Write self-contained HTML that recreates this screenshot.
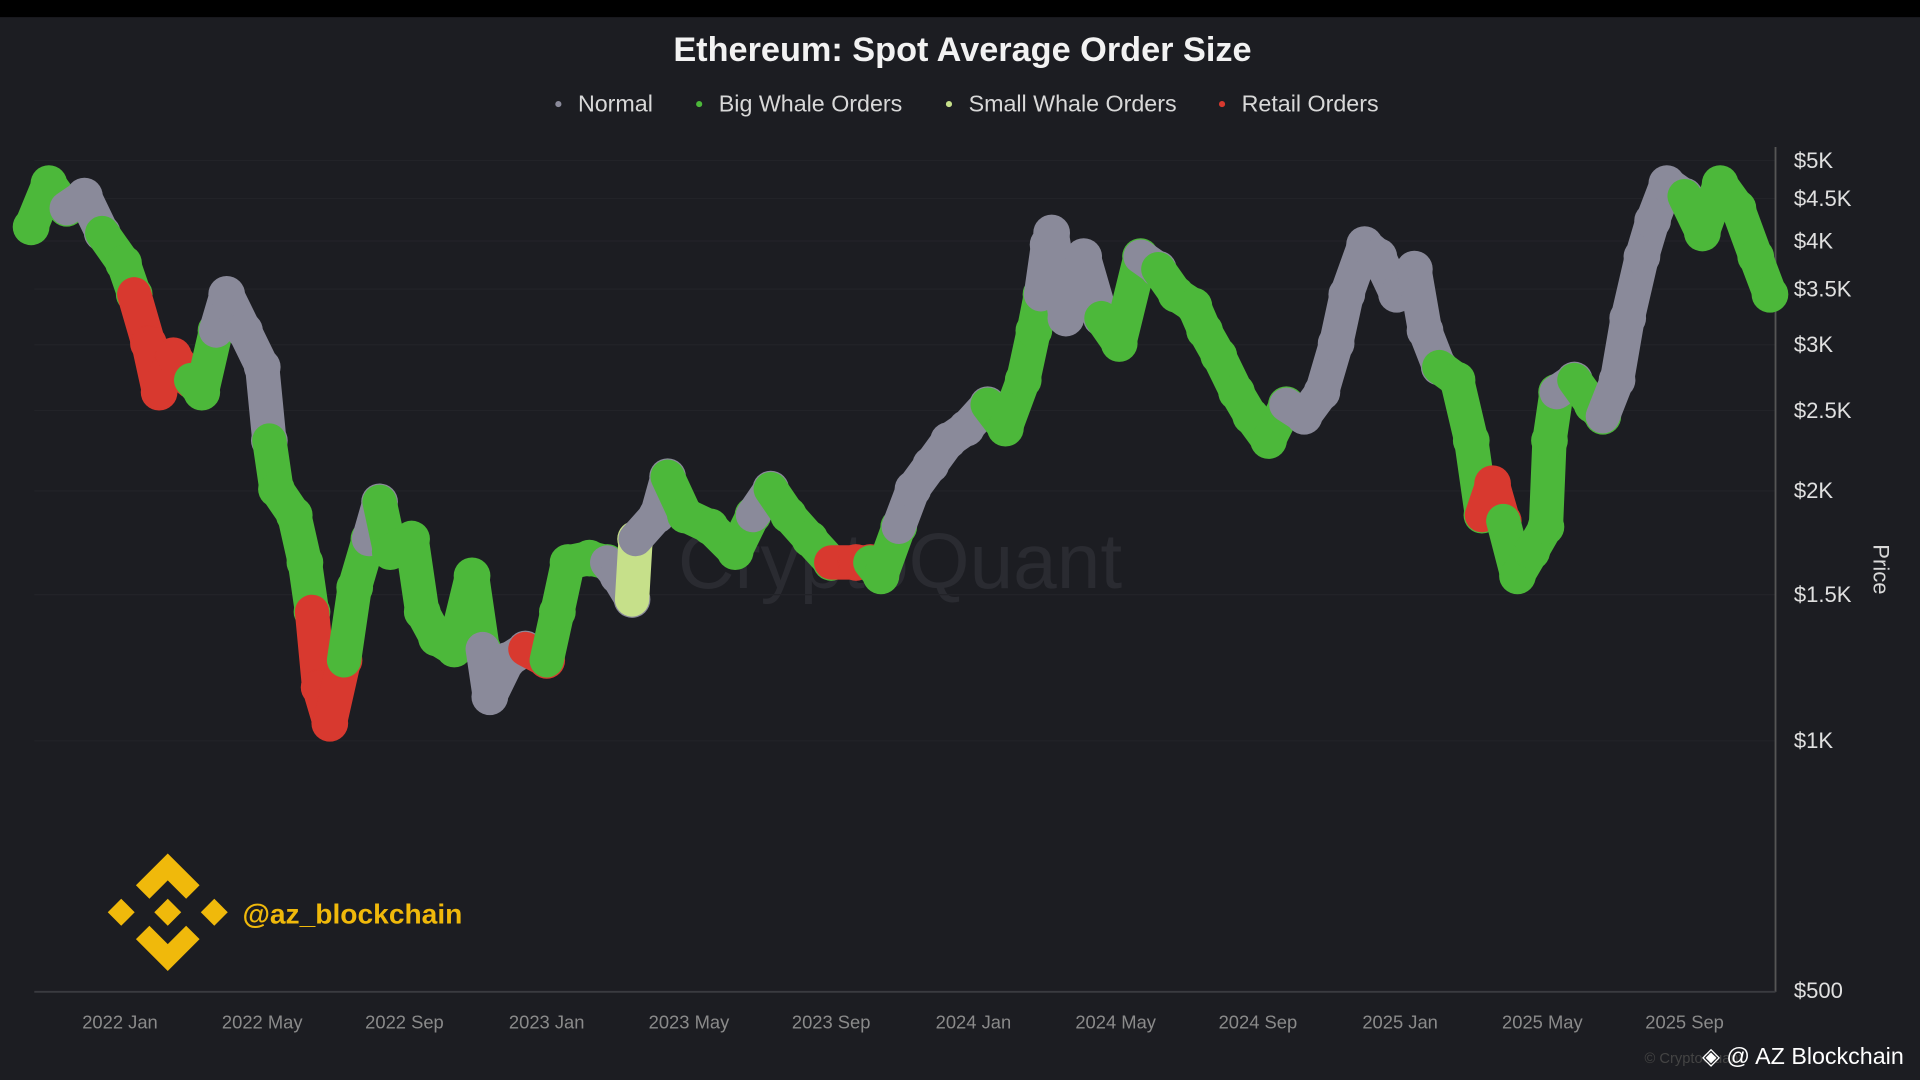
<!DOCTYPE html>
<html><head><meta charset="utf-8"><style>
html,body{margin:0;padding:0;background:#1c1d22;width:1920px;height:1080px;overflow:hidden}
svg{display:block;font-family:"Liberation Sans",sans-serif}
</style></head><body>
<svg id="chart" width="1920" height="1080" viewBox="0 0 1568 882">
<rect x="0" y="0" width="1568" height="882" fill="#1c1d22"/>
<rect x="0" y="0" width="1568" height="14" fill="#000"/>
<text x="786" y="50" text-anchor="middle" fill="#f2f2f2" font-size="28" font-weight="bold">Ethereum: Spot Average Order Size</text>
<g font-size="19" fill="#d8d8d8">
<g><circle cx="456" cy="85" r="2.5" fill="#8a8a9a"/><text x="472" y="91">Normal</text></g>
<g><circle cx="571" cy="85" r="2.5" fill="#4cb83a"/><text x="587" y="91">Big Whale Orders</text></g>
<g><circle cx="775" cy="85" r="2.5" fill="#c6e08a"/><text x="791" y="91">Small Whale Orders</text></g>
<g><circle cx="998" cy="85" r="2.5" fill="#d8392f"/><text x="1014" y="91">Retail Orders</text></g>
</g>
<text x="735" y="480" text-anchor="middle" fill="#2a2b31" font-size="64">CryptoQuant</text>
<g id="grid"></g>
<line x1="1450" y1="120" x2="1450" y2="810" stroke="#555" stroke-width="1.5"/>
<line x1="28" y1="810" x2="1450" y2="810" stroke="#3a3b40" stroke-width="1.5"/>
<g id="yticks"></g>
<g id="xticks"></g>
<text transform="translate(1530,465) rotate(90)" text-anchor="middle" fill="#d8d8d8" font-size="18">Price</text>
<g id="marks"></g>
<g fill="#f0b90b">
<polygon points="137,697 163,723 152,734 137,719 122,734 111,723"/>
<polygon points="137,793 163,767 152,756 137,771 122,756 111,767"/>
<polygon points="88,745 99,734 110,745 99,756"/>
<polygon points="164,745 175,734 186,745 175,756"/>
<polygon points="126,745 137,734 148,745 137,756"/>
</g>
<text x="198" y="754" fill="#f0b90b" font-size="23" font-weight="bold">@az_blockchain</text>
<text x="1343" y="868" fill="#444" font-size="12">© CryptoQuant</text>
<text x="1390" y="869" fill="#fff" font-size="19">◈ @ AZ Blockchain</text>
</svg>
<script>
const months=[-2.5,-2.0,-1.5,-1.0,-0.5,0.1,0.4,0.8,1.1,1.5,2.0,2.3,2.7,3.0,3.5,4.0,4.2,4.4,4.9,5.2,5.4,5.6,5.9,6.3,6.6,7.0,7.3,7.6,8.2,8.5,8.9,9.4,9.9,10.2,10.4,10.9,11.4,12.0,12.3,12.6,13.2,13.7,14.0,14.4,14.5,15.1,15.4,15.9,16.6,17.3,17.8,18.3,18.8,19.4,20.0,20.7,21.1,21.4,21.9,22.3,22.8,23.3,23.8,24.4,24.9,25.4,25.7,25.9,26.1,26.2,26.6,27.1,27.6,28.1,28.7,29.2,29.7,30.2,30.5,30.9,31.4,31.8,32.3,32.8,33.3,33.8,34.2,34.5,35.0,35.4,35.9,36.4,36.7,37.1,37.6,38.0,38.3,38.6,38.9,39.3,39.7,40.1,40.2,40.4,40.9,41.4,41.7,42.1,42.4,42.8,43.1,43.5,44.0,44.5,45.0,45.5,46.0,46.4];
const prices=[4160,4690,4380,4530,4090,3760,3450,3010,2630,2910,2720,2630,3120,3450,3120,2820,2300,2010,1870,1640,1430,1160,1050,1250,1530,1750,1940,1690,1750,1430,1330,1290,1580,1290,1130,1250,1290,1250,1430,1640,1660,1640,1580,1480,1750,1870,2080,1870,1810,1690,1870,2010,1870,1750,1640,1640,1640,1580,1810,2010,2150,2300,2380,2540,2380,2720,3120,3450,3960,4090,3230,3830,3230,3010,3830,3700,3450,3340,3120,2910,2630,2460,2300,2540,2460,2630,3010,3450,3960,3830,3450,3700,3120,2820,2720,2300,1870,2040,1840,1580,1690,1810,2300,2630,2720,2540,2460,2720,3230,3830,4230,4690,4530,4090,4690,4380,3830,3450];
const cats=["G","G","G","N","N","G","G","R","R","R","R","G","G","N","N","N","N","G","G","G","G","R","R","R","G","G","N","G","G","G","G","G","G","G","N","N","N","R","G","G","G","G","N","N","L","N","N","G","G","G","G","N","G","G","G","R","R","G","G","N","N","N","N","N","G","G","G","G","N","N","N","N","N","G","G","N","G","G","G","G","G","G","G","G","N","N","N","N","N","N","N","N","N","N","G","G","G","R","R","G","G","G","G","G","N","G","G","N","N","N","N","N","N","G","G","G","G","G"];
const yTickValues=[5000,4500,4000,3500,3000,2500,2000,1500,1000,500];
const yTickLabels=["$5K","$4.5K","$4K","$3.5K","$3K","$2.5K","$2K","$1.5K","$1K","$500"];
const xTickMonths=[0,4,8,12,16,20,24,28,32,36,40,44];
const xTickLabels=["2022 Jan","2022 May","2022 Sep","2023 Jan","2023 May","2023 Sep","2024 Jan","2024 May","2024 Sep","2025 Jan","2025 May","2025 Sep"];
const colors={G:"#4cb83a",N:"#8a8a9a",R:"#d8392f",L:"#c6e08a"};
const NS="http://www.w3.org/2000/svg";
function xScale(m){return 98+m*29.04;}
function yScale(p){return 605-678*Math.log10(p/1000);}
const grid=document.getElementById('grid'),yt=document.getElementById('yticks'),xt=document.getElementById('xticks'),marks=document.getElementById('marks');
yTickValues.forEach((v,i)=>{
  const y=yScale(v);
  if(v!==500){const l=document.createElementNS(NS,'line');
  
  
  l.setAttribute('x1',28);l.setAttribute('x2',1450);l.setAttribute('y1',y);l.setAttribute('y2',y);
  l.setAttribute('stroke','#222328');l.setAttribute('stroke-width','1');grid.appendChild(l);}
  const t=document.createElementNS(NS,'text');
  
  
  t.setAttribute('x',1465);t.setAttribute('y',y+6);t.setAttribute('fill','#e0e0e0');t.setAttribute('font-size','18');
  t.textContent=yTickLabels[i];yt.appendChild(t);
});
xTickMonths.forEach((m,i)=>{
  const t=document.createElementNS(NS,'text');
  
  
  t.setAttribute('x',xScale(m));t.setAttribute('y',840);t.setAttribute('text-anchor','middle');
  t.setAttribute('fill','#8a8a8a');t.setAttribute('font-size','15');
  t.textContent=xTickLabels[i];xt.appendChild(t);
});
for(let i=0;i<months.length;i++){
  const c=colors[cats[i]];
  if(i>0){
    const l=document.createElementNS(NS,'line');
    
    
    l.setAttribute('x1',xScale(months[i-1]));l.setAttribute('y1',yScale(prices[i-1]));
    l.setAttribute('x2',xScale(months[i]));l.setAttribute('y2',yScale(prices[i]));
    l.setAttribute('stroke',c);l.setAttribute('stroke-width','28');l.setAttribute('stroke-linecap','round');
    marks.appendChild(l);
  }
  const p=document.createElementNS(NS,'circle');
  
  
  p.setAttribute('cx',xScale(months[i]));p.setAttribute('cy',yScale(prices[i]));p.setAttribute('r','15');
  p.setAttribute('fill',c);marks.appendChild(p);
}
</script>
</body></html>
